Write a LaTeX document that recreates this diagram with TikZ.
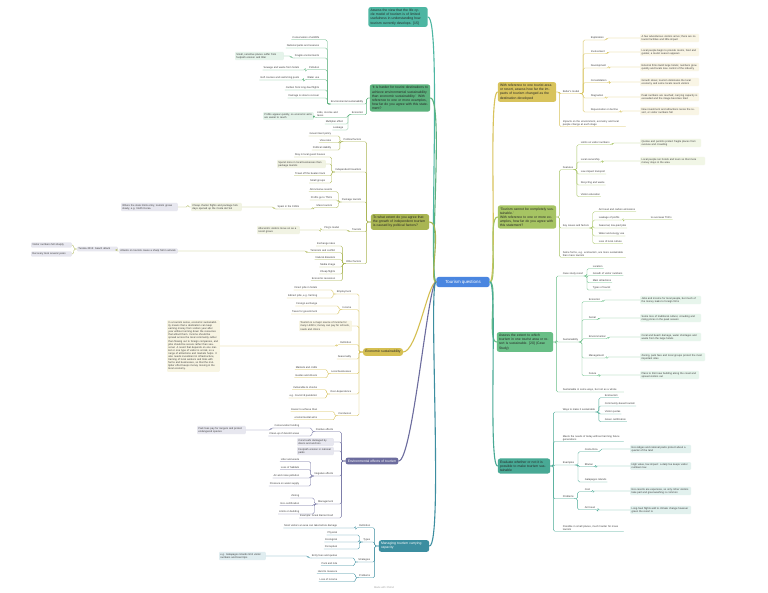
\documentclass[tikz,border=0pt]{standalone}
\usepackage{fontspec}
\setmainfont{Liberation Sans}
\usepackage{tikz}
\definecolor{cb}{HTML}{4A86E0}
\definecolor{tq}{HTML}{4DB6A2}
\definecolor{gq}{HTML}{5BB17C}
\definecolor{oq}{HTML}{A9B552}
\definecolor{yq}{HTML}{D5BF52}
\definecolor{pq}{HTML}{6C6C9E}
\definecolor{dq}{HTML}{3C8EA0}
\definecolor{yr}{HTML}{D8C35C}
\definecolor{or}{HTML}{A6C463}
\definecolor{gr}{HTML}{68BE86}
\definecolor{tr}{HTML}{48A995}
\newcommand{\leaffont}{\fontsize{2.6}{3.1}\selectfont}
\newcommand{\qfont}{\fontsize{3.4}{4.1}\selectfont}

\begin{document}
\begin{tikzpicture}[x=1pt,y=-1pt,line cap=round,line join=round,
  lf/.style={font=\leaffont,inner sep=0.6pt,align=left,text=black!75},
  lfr/.style={lf,anchor=west},
  lfl/.style={lf,anchor=east},
  nt/.style={font=\leaffont,inner sep=1.4pt,align=left,fill=#1!16,rounded corners=1pt,text=black!75},
  qn/.style={font=\qfont,inner sep=2.2pt,align=left,fill=#1,rounded corners=2.5pt,text=black!85},
  ln/.style={draw=#1,line width=0.35pt,rounded corners=1.5pt},
  br/.style={draw=#1,line width=1.1pt}]
\path[fill=white,use as bounding box] (0,0) rectangle (768,593);

% centre and questions
\node[fill=cb,text=white,font=\fontsize{4.4}{5.2}\selectfont,rounded corners=2.5pt,inner xsep=9pt,inner ysep=3pt] (ctr) at (463,282) {Tourism questions};
\node[qn=tq,text width=55pt] (q1) at (398,17) {Assess the view that the life cycle model of tourism is of limited usefulness in understanding how tourism currently develops. [15]};
\node[qn=gq,text width=56pt] (q2) at (400,98) {`It is harder for tourist destinations to achieve environmental sustainability than economic sustainability.' With reference to one or more examples, how far do you agree with this statement?};
\node[qn=oq,text width=54pt] (q3) at (400,222) {To what extent do you agree that the growth of independent tourism is caused by political factors?};
\node[qn=yq] (q4) at (383,352) {Economic sustainability};
\node[qn=pq,text=white] (q5) at (372,461) {Environmental effects of tourism};
\node[qn=dq,text=white,text width=46pt] (q6) at (404,546) {Managing tourism carrying capacity};
\node[qn=yr,text width=54pt] (q7) at (527,92) {With reference to one tourist area or resort, assess how far the impacts of tourism changed as the destination developed};
\node[qn=or,text width=54pt] (q8) at (527,217) {`Tourism cannot be completely sustainable.'\\ With reference to one or more examples, how far do you agree with this statement?};
\node[qn=gr,text width=52pt] (q9) at (525,342) {Assess the extent to which tourism in one tourist area or resort is sustainable. [20] (Case Study)};
\node[qn=tr,text width=48pt] (q10) at (524,466) {Evaluate whether or not it is possible to make tourism sustainable};

\foreach \q/\cl in {q1/tq,q2/gq,q3/oq,q4/yq,q5/pq,q6/dq}
  \draw[br=\cl] (ctr.west) .. controls +(-8,0) and +(14,0) .. (\q.east);
\foreach \q/\cl in {q7/yr,q8/or,q9/gr,q10/tr}
  \draw[br=\cl] (ctr.east) .. controls +(8,0) and +(-10,0) .. (\q.west);

% life cycle impacts
\node[lfr] (a0) at (562,92) {Butler's model};
\node[lfr] (a1) at (590,38) {Exploration};
\node[lfr] (a2) at (590,52) {Involvement};
\node[lfr] (a3) at (590,66) {Development};
\node[lfr] (a4) at (590,81) {Consolidation};
\node[lfr] (a5) at (590,96) {Stagnation};
\node[lfr] (a6) at (590,110) {Rejuvenation or decline};
\node[nt=yr,anchor=west,text width=56pt] (na1) at (640,38) {A few adventurous visitors arrive; there are no tourist facilities and little impact};
\node[nt=yr,anchor=west,text width=56pt] (na2) at (640,52) {Local people begin to provide rooms, food and guides; a tourist season appears};
\node[nt=yr,anchor=west,text width=56pt] (na3) at (640,67) {External firms build large hotels; numbers grow quickly and locals lose control of the industry};
\node[nt=yr,anchor=west,text width=56pt] (na4) at (640,82) {Growth slows; tourism dominates the local economy and some locals resent visitors};
\node[nt=yr,anchor=west,text width=56pt] (na5) at (640,97) {Peak numbers are reached; carrying capacity is exceeded and the image becomes tired};
\node[nt=yr,anchor=west,text width=56pt] (na6) at (640,111) {New investment and attractions revive the resort, or visitor numbers fall};
\node[lfr,text width=62pt] (a7) at (562,123) {Impacts on the environment, economy and local people change at each stage};
\foreach \k in {a0,a7} \draw[ln=yr] (q7.east) -- ++(3,0) |- (\k.south west) -- (\k.south east);
\foreach \k in {a1,a2,a3,a4,a5,a6} \draw[ln=yr] (a0.south east) -- ++(3,0) |- (\k.south west) -- (\k.south east);
\foreach \k in {1,...,6} \draw[ln=yr] (a\k.south east) -- ++(2,0) |- (na\k.west);

% cannot be completely sustainable
\node[lfr] (b0) at (562,168) {Features};
\node[lfr] (b1) at (580,143) {Limits on visitor numbers};
\node[lfr] (b2) at (580,160) {Local ownership};
\node[lfr] (b3) at (580,172) {Low-impact transport};
\node[lfr] (b4) at (580,183) {Recycling and waste};
\node[lfr] (b5) at (580,195) {Visitor education};
\node[nt=or,anchor=west,text width=58pt] (nb1) at (640,143) {Quotas and permits protect fragile places from overuse and crowding};
\node[nt=or,anchor=west,text width=62pt] (nb2) at (640,161) {Local people run hotels and tours so that more money stays in the area};
\node[lfr] (b6) at (562,226) {Key issues and factors};
\node[lfr] (b7) at (598,210) {Air travel and carbon emissions};
\node[lfr] (b8) at (598,218) {Leakage of profits};
\node[lfr] (b9) at (598,226) {Seasonal, low-paid jobs};
\node[lfr] (b10) at (598,234) {Water and energy use};
\node[lfr] (b11) at (598,242) {Loss of local culture};
\node[lfr] (b12) at (650,218) {to overseas TNCs};
\node[lfr,text width=62pt] (b13) at (562,254) {Some forms, e.g. ecotourism, are more sustainable than mass tourism};
\foreach \k in {b0,b6,b13} \draw[ln=or] (q8.east) -- ++(3,0) |- (\k.south west) -- (\k.south east);
\foreach \k in {b1,b2,b3,b4,b5} \draw[ln=or] (b0.south east) -- ++(3,0) |- (\k.south west) -- (\k.south east);
\foreach \k in {b7,b8,b9,b10,b11} \draw[ln=or] (b6.south east) -- ++(3,0) |- (\k.south west) -- (\k.south east);
\draw[ln=or] (b8.south east) -- ++(3,0) |- (b12.south west) -- (b12.south east);
\foreach \k in {1,2} \draw[ln=or] (b\k.south east) -- ++(2,0) |- (nb\k.west);

% one resort
\node[lfr] (c0) at (562,274) {Case study resort};
\node[lfr] (c1) at (592,267) {Location};
\node[lfr] (c2) at (592,274) {Growth of visitor numbers};
\node[lfr] (c3) at (592,281) {Main attractions};
\node[lfr] (c4) at (592,288) {Types of tourist};
\node[lfr] (c5) at (562,340) {Sustainability};
\node[lfr] (c6) at (588,300) {Economic};
\node[lfr] (c7) at (588,318) {Social};
\node[lfr] (c8) at (588,337) {Environmental};
\node[lfr] (c9) at (588,356) {Management};
\node[lfr] (c10) at (588,374) {Future};
\node[nt=gr,anchor=west,text width=58pt] (nc6) at (640,300) {Jobs and income for local people, but much of the money leaks to foreign firms};
\node[nt=gr,anchor=west,text width=58pt] (nc7) at (640,318) {Some loss of traditional culture; crowding and rising prices in the peak season};
\node[nt=gr,anchor=west,text width=58pt] (nc8) at (640,337) {Coral and beach damage, water shortages and waste from the large hotels};
\node[nt=gr,anchor=west,text width=62pt] (nc9) at (640,357) {Zoning, park fees and local groups protect the most important sites};
\node[nt=gr,anchor=west,text width=56pt] (nc10) at (640,375) {Plans to limit new building along the coast and spread visitors out};
\node[lfr,text width=60pt] (c11) at (562,390) {Sustainable in some ways, but not as a whole};
\foreach \k in {c0,c5,c11} \draw[ln=gr] (q9.east) -- ++(3,0) |- (\k.south west) -- (\k.south east);
\foreach \k in {c1,c2,c3,c4} \draw[ln=gr] (c0.south east) -- ++(3,0) |- (\k.south west) -- (\k.south east);
\foreach \k in {c6,c7,c8,c9,c10} \draw[ln=gr] (c5.south east) -- ++(3,0) |- (\k.south west) -- (\k.south east);
\foreach \k in {6,...,10} \draw[ln=gr] (c\k.south east) -- ++(2,0) |- (nc\k.west);

% possible to make sustainable
\node[lfr] (d0) at (562,410) {Ways to make it sustainable};
\node[lfr] (d1) at (604,396) {Ecotourism};
\node[lfr] (d2) at (604,404) {Community-based tourism};
\node[lfr] (d3) at (604,412) {Visitor quotas};
\node[lfr] (d4) at (604,420) {Green certification};
\node[lfr,text width=60pt] (d5) at (562,438) {Meets the needs of today without harming future generations};
\node[lfr] (d6) at (562,463) {Examples};
\node[lfr] (d7) at (584,450) {Costa Rica};
\node[lfr] (d8) at (584,465) {Bhutan};
\node[lfr] (d9) at (584,480) {Galapagos Islands};
\node[nt=tr,anchor=west,text width=58pt] (nd7) at (630,449) {Eco-lodges and national parks protect about a quarter of the land};
\node[nt=tr,anchor=west,text width=58pt] (nd8) at (630,466) {High value, low impact: a daily fee keeps visitor numbers low};
\node[lfr] (d10) at (562,497) {Problems};
\node[lfr] (d11) at (584,490) {Cost};
\node[lfr] (d12) at (584,508) {Air travel};
\node[nt=tr,anchor=west,text width=58pt] (nd11) at (630,491) {Eco-resorts are expensive, so only richer visitors take part and greenwashing is common};
\node[nt=tr,anchor=west,text width=58pt] (nd12) at (630,510) {Long-haul flights add to climate change however green the resort is};
\node[lfr,text width=60pt] (d13) at (562,528) {Possible in small places, much harder for mass tourism};
\foreach \k in {d0,d5,d6,d10,d13} \draw[ln=tr] (q10.east) -- ++(3,0) |- (\k.south west) -- (\k.south east);
\foreach \k in {d1,d2,d3,d4} \draw[ln=tr] (d0.south east) -- ++(3,0) |- (\k.south west) -- (\k.south east);
\foreach \k in {d7,d8,d9} \draw[ln=tr] (d6.south east) -- ++(3,0) |- (\k.south west) -- (\k.south east);
\foreach \k in {d11,d12} \draw[ln=tr] (d10.south east) -- ++(3,0) |- (\k.south west) -- (\k.south east);
\foreach \k in {7,8,11,12} \draw[ln=tr] (d\k.south east) -- ++(2,0) |- (nd\k.west);

% environmental vs economic
\node[lfl] (e0) at (364,102) {Environmental sustainability};
\node[lfl] (e1) at (320,38) {Conservation of wildlife};
\node[lfl] (e2) at (320,46) {National parks and reserves};
\node[lfl] (e3) at (320,56) {Fragile environments};
\node[lfl] (e4) at (320,68) {Pollution};
\node[lfl] (e5) at (320,78) {Water use};
\node[lfl] (e6) at (320,88) {Carbon from long-haul flights};
\node[lfl] (e7) at (320,96) {Damage is slow to recover};
\node[nt=gq,anchor=east,text width=46pt] (ne3) at (284,56) {Small, sensitive places suffer from footpath erosion and litter};
\node[lfl] (e8) at (300,68) {Sewage and waste from hotels};
\node[lfl] (e9) at (300,78) {Golf courses and swimming pools};
\node[lfl] (e10) at (364,113) {Economic};
\node[lfl,text width=26pt] (e11) at (344,114) {Jobs, income and taxes};
\node[lfl] (e12) at (344,122) {Multiplier effect};
\node[lfl] (e13) at (344,128) {Leakage};
\node[nt=gq,anchor=east,text width=48pt] (ne11) at (314,116) {Profits appear quickly, so economic aims are easier to reach};
\foreach \k in {e0,e10} \draw[ln=gq] (q2.west) -- ++(-3,0) |- (\k.south east) -- (\k.south west);
\foreach \k in {e1,e2,e3,e4,e5,e6,e7} \draw[ln=gq] (e0.south west) -- ++(-3,0) |- (\k.south east) -- (\k.south west);
\foreach \k in {e11,e12,e13} \draw[ln=gq] (e10.south west) -- ++(-3,0) |- (\k.south east) -- (\k.south west);
\draw[ln=gq] (e4.south west) -- ++(-3,0) |- (e8.south east) -- (e8.south west);
\draw[ln=gq] (e5.south west) -- ++(-3,0) |- (e9.south east) -- (e9.south west);
\draw[ln=gq] (e3.south west) -- ++(-3,0) |- (ne3.east);
\draw[ln=gq] (e11.south west) -- ++(-3,0) |- (ne11.east);

% independent tourism
\node[lfl] (f0) at (362,140) {Political factors};
\node[lfl] (f1) at (332,134) {Government policy};
\node[lfl] (f2) at (332,141) {Visa rules};
\node[lfl] (f3) at (332,148) {Political stability};
\node[lfl] (f4) at (362,170) {Independent travellers};
\node[lfl] (f5) at (326,155) {Stay in local guest houses};
\node[nt=oq,anchor=east,text width=46pt] (nf6) at (326,164) {Spend more in local businesses than package tourists};
\node[lfl] (f7) at (326,174) {Travel off the beaten track};
\node[lfl] (f8) at (326,181) {Small groups};
\node[lfl] (f9) at (362,200) {Package tourists};
\node[lfl] (f10) at (333,190) {All-inclusive resorts};
\node[lfl] (f11) at (333,198) {Profits go to TNCs};
\node[lfl] (f12) at (333,206) {Mass tourism};
\node[lfl] (f13) at (300,207) {Spain in the 1960s};
\node[nt=oq,anchor=east,text width=48pt] (nf14) at (242,207) {Cheap charter flights and package holidays opened up the Costa del Sol};
\node[nt=pq,anchor=east,text width=54pt] (nf15) at (178,207) {Where the state limits entry, tourism grows slowly, e.g. North Korea};
\node[lfl] (f16) at (362,230) {Tourists};
\node[lfl] (f17) at (340,228) {Plog's model};
\node[nt=oq,anchor=east,text width=40pt] (nf18) at (300,230) {Allocentric visitors move on as a resort grows};
\node[lfl] (f19) at (362,262) {Other factors};
\node[lfl] (f20) at (336,244) {Exchange rates};
\node[lfl] (f21) at (336,251) {Terrorism and conflict};
\node[lfl] (f22) at (336,258) {Natural disasters};
\node[lfl] (f23) at (336,265) {Media image};
\node[lfl] (f24) at (336,272) {Cheap flights};
\node[lfl] (f25) at (336,279) {Economic recession};
\node[nt=pq,anchor=east,text width=56pt] (nf26) at (178,251) {Attacks on tourists cause a sharp fall in arrivals};
\node[nt=pq,anchor=east,text width=38pt] (nf27) at (118,249) {Tunisia 2015: beach attack};
\node[nt=pq,anchor=east,text width=38pt] (nf28) at (72,245) {Visitor numbers fell sharply};
\node[nt=pq,anchor=east,text width=38pt] (nf29) at (72,254) {Recovery took several years};
\foreach \k in {f0,f4,f9,f16,f19} \draw[ln=oq] (q3.west) -- ++(-4,0) |- (\k.south east) -- (\k.south west);
\foreach \k in {f1,f2,f3} \draw[ln=oq] (f0.south west) -- ++(-3,0) |- (\k.south east) -- (\k.south west);
\foreach \k in {f5,f7,f8} \draw[ln=oq] (f4.south west) -- ++(-3,0) |- (\k.south east) -- (\k.south west);
\draw[ln=oq] (f4.south west) -- ++(-3,0) |- (nf6.east);
\foreach \k in {f10,f11,f12} \draw[ln=oq] (f9.south west) -- ++(-3,0) |- (\k.south east) -- (\k.south west);
\draw[ln=oq] (f12.south west) -- ++(-3,0) |- (f13.south east) -- (f13.south west);
\draw[ln=oq] (f13.south west) -- ++(-3,0) |- (nf14.east);
\draw[ln=oq] (nf14.west) -- ++(-3,0) |- (nf15.east);
\draw[ln=oq] (f16.south west) -- ++(-3,0) |- (f17.south east) -- (f17.south west);
\draw[ln=oq] (f17.south west) -- ++(-3,0) |- (nf18.east);
\foreach \k in {f20,f21,f22,f23,f24,f25} \draw[ln=oq] (f19.south west) -- ++(-3,0) |- (\k.south east) -- (\k.south west);
\draw[ln=oq] (f21.south west) -- ++(-3,0) |- (nf26.east);
\draw[ln=oq] (nf26.west) -- ++(-3,0) |- (nf27.east);
\foreach \k in {nf28,nf29} \draw[ln=oq] (nf27.west) -- ++(-3,0) |- (\k.east);

% economic sustainability
\node[lfl] (g1) at (352,292) {Employment};
\node[lfl] (g2) at (318,288) {Direct jobs in hotels};
\node[lfl] (g3) at (318,296) {Indirect jobs, e.g. farming};
\node[lfl] (g4) at (352,308) {Income};
\node[lfl] (g5) at (318,304) {Foreign exchange};
\node[lfl] (g6) at (318,312) {Taxes for government};
\node[nt=yq,anchor=east,text width=50pt] (ng7) at (352,326) {Tourism is a major source of income for many LEDCs; money can pay for schools, roads and clinics};
\node[lfl] (g8) at (352,343) {Definition};
\node[nt=yq,anchor=east,text width=50pt] (ng9) at (220,346) {In a tourism sense, economic sustainability means that a destination can keep earning money from visitors year after year without running down the resources that attract them. Income should be spread across the local community rather than flowing out to foreign companies, and jobs should be secure rather than seasonal. A resort that depends on one market or one type of visitor is at risk, so a range of attractions and markets helps. It also needs investment in infrastructure, training of local workers and links with farms and businesses, so that the multiplier effect keeps money moving in the local economy.};
\node[lfl] (g10) at (352,357) {Seasonality};
\node[lfl] (g11) at (352,372) {Local businesses};
\node[lfl] (g12) at (318,368) {Markets and crafts};
\node[lfl] (g13) at (318,376) {Guides and drivers};
\node[lfl] (g14) at (352,392) {Over-dependence};
\node[lfl] (g15) at (318,388) {Vulnerable to shocks};
\node[lfl] (g16) at (318,396) {e.g. Covid-19 pandemic};
\node[lfl] (g17) at (352,414) {Conclusion};
\node[lfl] (g18) at (318,410) {Easier to achieve than};
\node[lfl] (g19) at (318,418) {environmental aims};
\foreach \k in {g1,g4,g8,g10,g11,g14,g17} \draw[ln=yq] (q4.west) -- ++(-4,0) |- (\k.south east) -- (\k.south west);
\draw[ln=yq] (q4.west) -- ++(-4,0) |- (ng7.east);
\foreach \k/\p in {g2/g1,g3/g1,g5/g4,g6/g4,g12/g11,g13/g11,g15/g14,g16/g14,g18/g17,g19/g17}
  \draw[ln=yq] (\p.south west) -- ++(-3,0) |- (\k.south east) -- (\k.south west);
\draw[ln=yq] (g8.south west) -- ++(-3,0) |- (ng9.east);

% environmental effects
\node[lfl] (h1) at (334,430) {Positive effects};
\node[lfl] (h2) at (300,426) {Conservation funding};
\node[nt=pq,anchor=east,text width=46pt] (nh3) at (246,430) {Park fees pay for rangers and protect endangered species};
\node[lfl] (h4) at (300,434) {Clean-up of derelict areas};
\node[nt=pq,anchor=east,text width=34pt] (nh5) at (334,442) {Coral reefs damaged by divers and anchors};
\node[nt=pq,anchor=east,text width=34pt] (nh6) at (334,451) {Footpath erosion in national parks};
\node[lfl] (h7) at (334,474) {Negative effects};
\node[lfl] (h8) at (300,460) {Litter and waste};
\node[lfl] (h9) at (300,468) {Loss of habitats};
\node[lfl] (h10) at (300,476) {Air and noise pollution};
\node[lfl] (h11) at (300,484) {Pressure on water supply};
\node[lfl] (h12) at (334,502) {Management};
\node[lfl] (h13) at (300,496) {Zoning};
\node[lfl] (h14) at (300,504) {Eco-certification};
\node[lfl] (h15) at (300,512) {Limits on building};
\node[lfl] (h16) at (334,516) {Example: Great Barrier Reef};
\foreach \k in {h1,h7,h12,h16} \draw[ln=pq] (q5.west) -- ++(-4,0) |- (\k.south east) -- (\k.south west);
\foreach \k in {nh5,nh6} \draw[ln=pq] (q5.west) -- ++(-4,0) |- (\k.east);
\foreach \k/\p in {h2/h1,h4/h1,h8/h7,h9/h7,h10/h7,h11/h7,h13/h12,h14/h12,h15/h12}
  \draw[ln=pq] (\p.south west) -- ++(-3,0) |- (\k.south east) -- (\k.south west);
\draw[ln=pq] (h2.south west) -- ++(-3,0) |- (nh3.east);

% carrying capacity
\node[lfl] (k1) at (371,526) {Definition};
\node[lfl] (k2) at (338,526) {Most visitors an area can take before damage};
\node[lfl] (k3) at (371,540) {Types};
\node[lfl] (k4) at (338,533) {Physical};
\node[lfl] (k5) at (338,540) {Ecological};
\node[lfl] (k6) at (338,547) {Perceptual};
\node[lfl] (k7) at (371,560) {Strategies};
\node[lfl] (k8) at (338,556) {Entry fees and quotas};
\node[lfl] (k9) at (338,564) {Park and ride};
\node[nt=dq,anchor=east,text width=44pt] (nk10) at (266,556) {e.g. Galapagos Islands limit visitor numbers and boat trips};
\node[lfl] (k11) at (371,576) {Problems};
\node[lfl] (k12) at (338,572) {Hard to measure};
\node[lfl] (k13) at (338,580) {Loss of income};
\foreach \k in {k1,k3,k7,k11} \draw[ln=dq] (q6.west) -- ++(-4,0) |- (\k.south east) -- (\k.south west);
\foreach \k/\p in {k2/k1,k4/k3,k5/k3,k6/k3,k8/k7,k9/k7,k12/k11,k13/k11}
  \draw[ln=dq] (\p.south west) -- ++(-3,0) |- (\k.south east) -- (\k.south west);
\draw[ln=dq] (k8.south west) -- ++(-3,0) |- (nk10.east);

\node[font=\fontsize{2.6}{3}\selectfont,text=black!35] (ft) at (384,588) {Made with XMind};
\end{tikzpicture}
\end{document}
